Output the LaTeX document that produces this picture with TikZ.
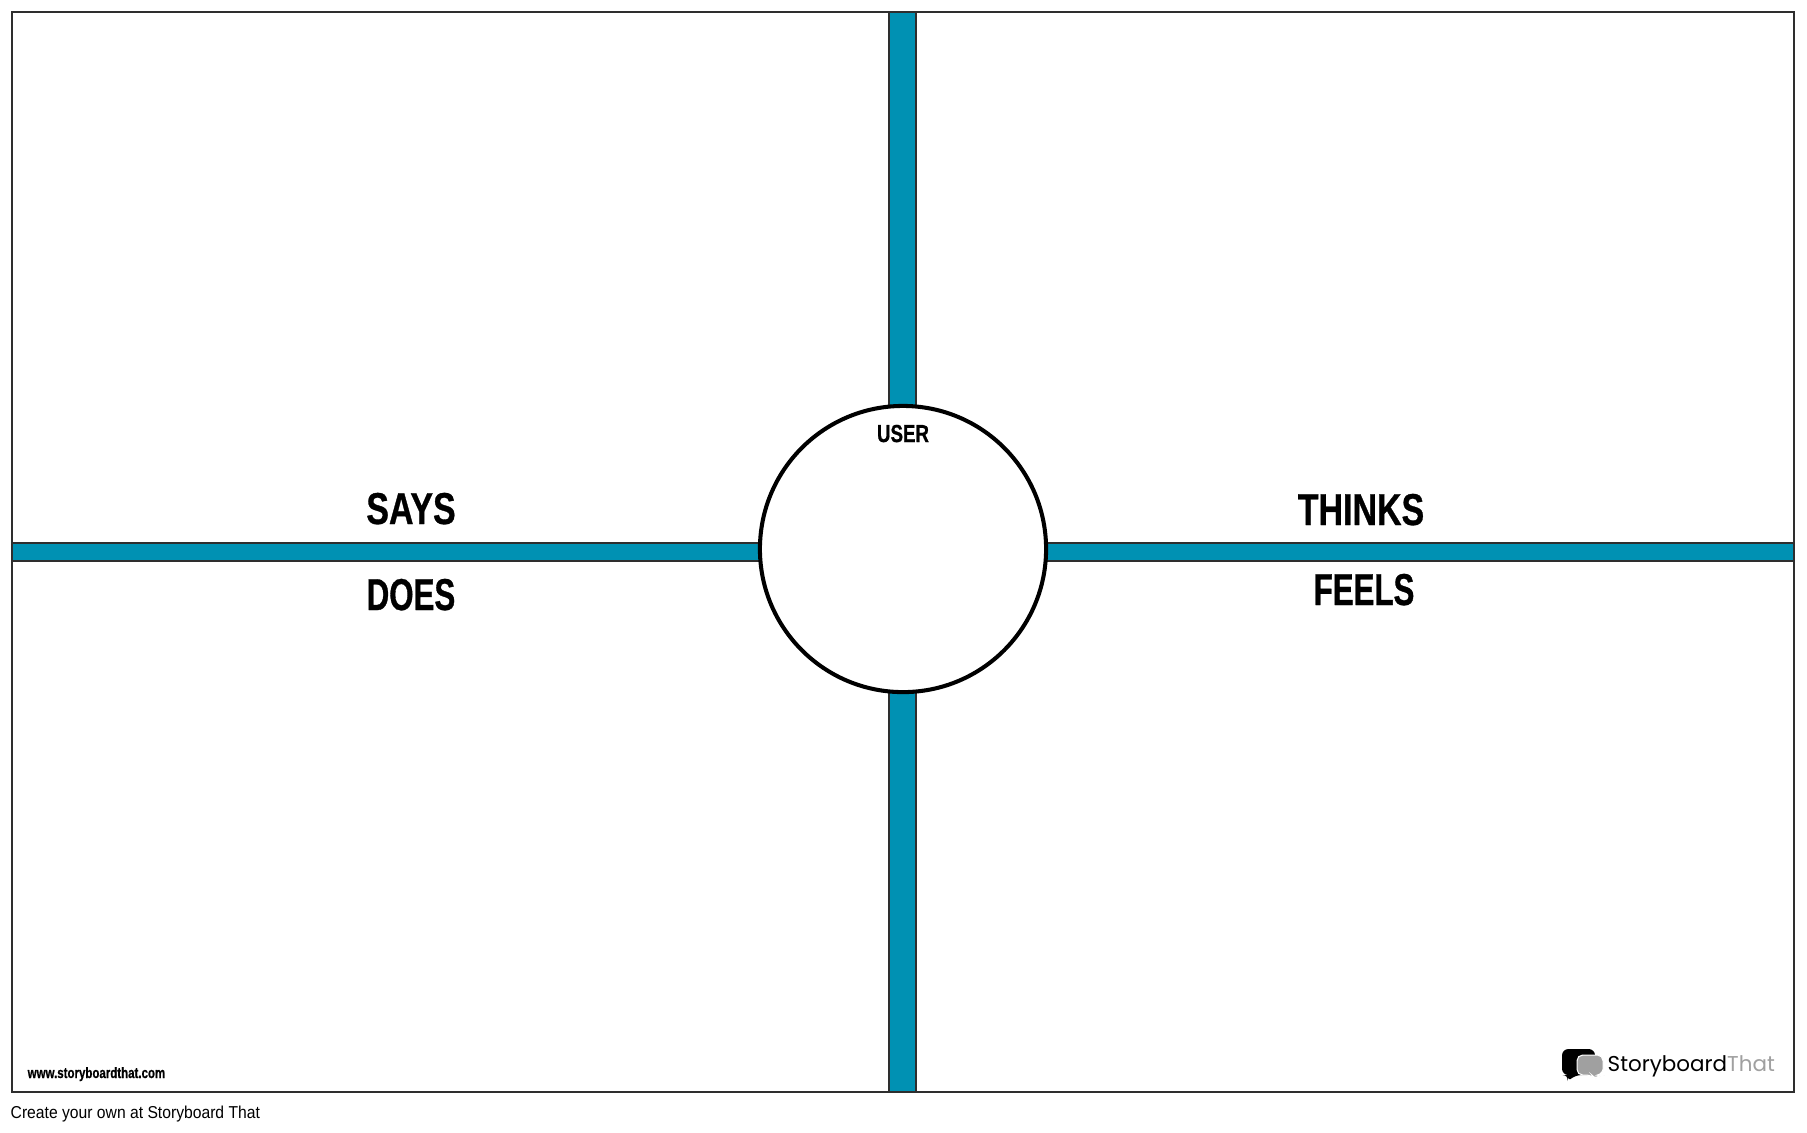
\documentclass[tikz,border=0pt]{standalone}
\usepackage{fontspec}
\setmainfont[FakeStretch=0.91]{Liberation Sans}
\newfontfamily\headfont[FakeStretch=0.76,BoldFeatures={FakeBold=0.7}]{Liberation Sans}
\newfontfamily\narrowfont[FakeStretch=0.70,BoldFeatures={FakeBold=0.7}]{Liberation Sans}
\newfontfamily\logofont{Poppins}
\definecolor{barblue}{HTML}{0091B3}
\definecolor{framegray}{HTML}{2E2E2E}
\definecolor{logogray}{HTML}{A0A0A0}
\tikzset{
    head/.style={font=\headfont\fontsize{12.7}{14}\selectfont\bfseries,inner sep=0pt,anchor=base},
    narrowhead/.style={head,font=\narrowfont\fontsize{12.7}{14}\selectfont\bfseries},
    bar/.style={draw=framegray,line width=0.6pt,fill=barblue},
}
\begin{document}
\begin{tikzpicture}[x=0.01cm,y=-0.01cm]
    \useasboundingbox (0,0) rectangle (1807,1132);
    \draw[color=framegray,line width=0.7pt,fill=white] (12,12) rectangle (1794,1092);
    \draw[bar] (889,12) rectangle (916,1092);
    \draw[bar] (12,543) rectangle (1794,561);
    \node[draw=black,line width=1.15pt,fill=white,circle,minimum size=2.86cm,inner sep=0pt] (user) at (903,549) {};
    \node[head] (says) at (411,524) {SAYS};
    \node[narrowhead] (does) at (411,610) {DOES};
    \node[head] (thinks) at (1361,525) {THINKS};
    \node[narrowhead] (feels) at (1364,605) {FEELS};
    \node[head,font=\headfont\fontsize{7.0}{8}\selectfont\bfseries] (userlabel) at (903,442) {USER};
    \node[head,font=\headfont\fontsize{4.3}{5}\selectfont\bfseries,anchor=base west] (website) at (27,1078) {www.storyboardthat.com};
    \node[font=\fontsize{4.9}{6}\selectfont,inner sep=0pt,anchor=base west] (create) at (10,1118) {Create your own at Storyboard That};
    % logo
    \fill[black,rounded corners=1.8pt] (1562,1049) -- (1595,1049) -- (1595,1075) -- (1575,1075) -- (1567,1082) -- (1569,1075) -- (1562,1075) -- cycle;
    \fill[logogray,draw=white,line width=0.3pt,rounded corners=1.6pt] (1577,1055) -- (1603,1055) -- (1603,1075) -- (1599,1075) -- (1596,1080) -- (1592,1075) -- (1577,1075) -- cycle;
    \node[font=\logofont\fontsize{6.1}{8}\selectfont,inner sep=0pt,anchor=base west] (logotext) at (1607,1071) {Storyboard\textcolor{logogray}{That}};
\end{tikzpicture}
\end{document}
